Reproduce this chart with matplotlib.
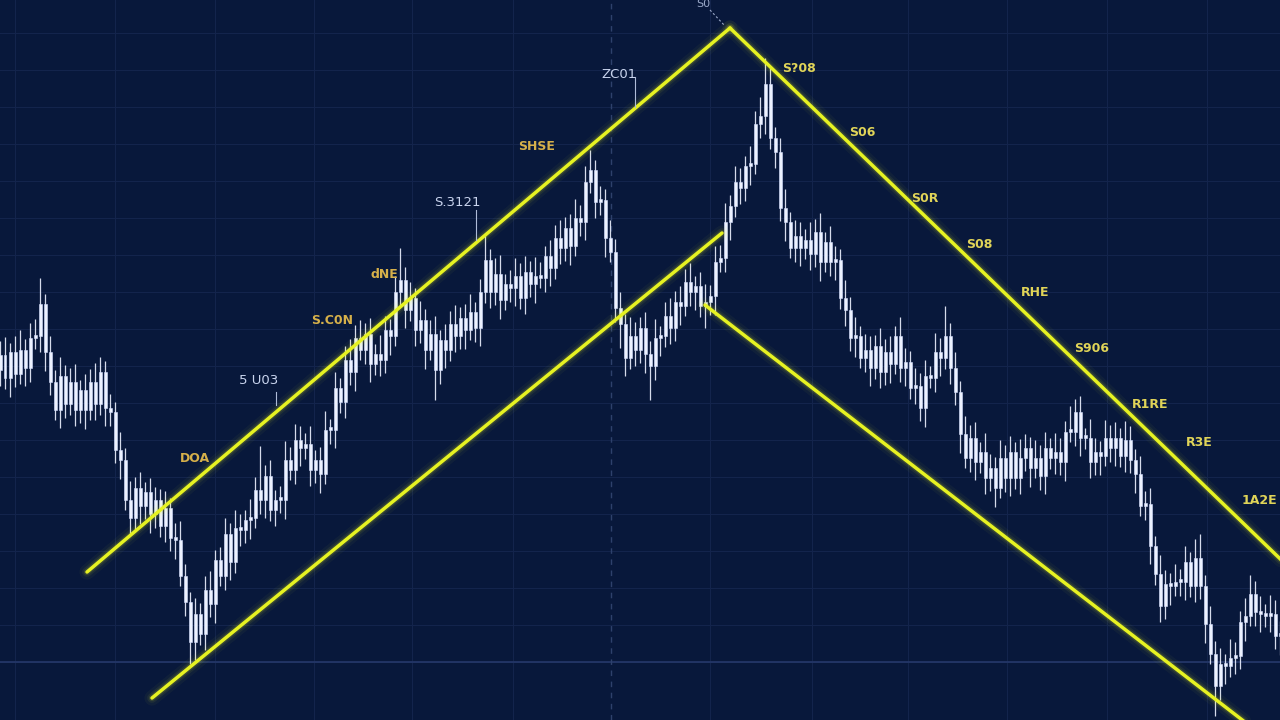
import numpy as np
import matplotlib
matplotlib.use("Agg")
import matplotlib.pyplot as plt

# closing prices, one candle per bar
closes = [
    645, 622, 648, 626, 650, 632, 662, 664, 696, 648, 618, 590, 624, 596, 618, 590,
    610, 590, 618, 596, 628, 592, 588, 550, 540, 500, 482, 512, 494, 508, 486, 500,
    474, 492, 462, 460, 424, 398, 358, 386, 366, 410, 396, 440, 424, 466, 438, 472,
    470, 480, 482, 510, 500, 524, 490, 500, 500, 540, 530, 560, 552, 556, 530, 540,
    526, 570, 570, 612, 598, 640, 628, 662, 650, 666, 636, 646, 640, 670, 664, 708,
    720, 690, 702, 670, 680, 650, 666, 630, 660, 650, 676, 664, 682, 670, 688, 672,
    708, 740, 708, 726, 700, 716, 712, 724, 702, 728, 716, 724, 722, 744, 732, 762,
    752, 772, 754, 782, 778, 818, 830, 798, 800, 762, 748, 692, 676, 642, 664, 650,
    672, 646, 634, 662, 664, 684, 672, 698, 694, 718, 708, 714, 694, 698, 704, 738,
    742, 778, 794, 818, 812, 834, 836, 876, 884, 916, 862, 848, 792, 778, 752, 764,
    752, 760, 746, 768, 738, 758, 738, 740, 702, 690, 662, 664, 642, 650, 632, 654,
    628, 648, 636, 664, 632, 638, 612, 614, 592, 624, 622, 648, 642, 664, 632, 608,
    566, 542, 562, 538, 548, 522, 532, 512, 542, 522, 548, 522, 542, 552, 532, 542,
    524, 552, 542, 548, 538, 568, 568, 588, 562, 562, 538, 548, 544, 562, 552, 562,
    544, 560, 540, 526, 494, 496, 454, 426, 394, 416, 414, 418, 418, 438, 414, 442,
    414, 376, 346, 314, 336, 334, 342, 344, 378, 384, 406, 388, 386, 384, 386, 364,
    366,
]
first_open = 630

# upper / lower shadow length of every candle
wick_up = [
    14, 18, 9, 16, 20, 11, 15, 17, 26, 10, 16, 12, 19, 11, 14, 18,
    10, 16, 13, 19, 15, 11, 14, 10, 18, 12, 19, 11, 16, 10, 14, 13,
    11, 17, 10, 15, 19, 12, 10, 16, 11, 14, 19, 10, 13, 16, 11, 18,
    14, 10, 19, 13, 44, 11, 16, 10, 14, 19, 13, 16, 14, 11, 18, 10,
    13, 19, 11, 16, 10, 14, 21, 13, 18, 11, 16, 10, 19, 14, 11, 16,
    32, 13, 16, 10, 19, 11, 14, 18, 10, 16, 13, 19, 11, 14, 18, 10,
    13, 26, 11, 16, 19, 10, 14, 18, 13, 16, 11, 19, 14, 10, 16, 13,
    18, 11, 14, 19, 13, 16, 20, 10, 14, 11, 18, 13, 16, 10, 19, 14,
    11, 16, 13, 19, 10, 14, 18, 11, 16, 13, 19, 10, 14, 18, 11, 16,
    13, 19, 11, 16, 14, 10, 18, 13, 19, 26, 16, 11, 14, 19, 10, 16,
    14, 11, 18, 13, 19, 10, 16, 14, 11, 18, 13, 19, 10, 16, 14, 11,
    18, 13, 16, 10, 19, 14, 11, 18, 13, 16, 10, 19, 14, 30, 13, 16,
    11, 18, 13, 16, 10, 19, 14, 11, 18, 13, 16, 10, 19, 14, 11, 18,
    13, 16, 10, 19, 14, 11, 26, 13, 16, 10, 19, 14, 11, 18, 13, 16,
    10, 19, 14, 11, 18, 13, 16, 10, 19, 14, 11, 18, 13, 16, 10, 19,
    24, 11, 18, 13, 16, 10, 19, 14, 11, 18, 19, 13, 16, 10, 19, 14,
    13,
]
wick_dn = [
    16, 11, 19, 13, 10, 18, 14, 11, 16, 19, 13, 10, 18, 14, 11, 16,
    13, 19, 10, 16, 11, 18, 14, 13, 19, 10, 16, 11, 18, 13, 19, 14,
    11, 16, 13, 19, 10, 14, 22, 18, 11, 16, 13, 19, 10, 14, 18, 11,
    16, 13, 19, 10, 14, 18, 11, 16, 13, 19, 10, 14, 18, 11, 16, 13,
    19, 10, 14, 18, 11, 16, 13, 19, 10, 14, 18, 11, 16, 13, 19, 10,
    14, 18, 11, 16, 13, 19, 10, 30, 14, 18, 11, 16, 13, 19, 10, 14,
    18, 11, 16, 13, 19, 10, 14, 18, 11, 16, 13, 19, 10, 14, 18, 11,
    16, 13, 19, 10, 14, 18, 11, 16, 13, 19, 10, 14, 24, 18, 11, 16,
    13, 19, 34, 14, 18, 11, 16, 13, 19, 10, 14, 18, 11, 22, 13, 19,
    10, 14, 18, 11, 16, 13, 19, 10, 14, 18, 11, 16, 13, 19, 10, 14,
    18, 11, 16, 13, 19, 10, 14, 18, 11, 16, 13, 19, 10, 14, 18, 11,
    16, 13, 19, 10, 14, 18, 11, 16, 13, 19, 10, 14, 18, 11, 16, 13,
    19, 10, 14, 18, 11, 16, 13, 19, 10, 14, 18, 11, 16, 13, 19, 10,
    14, 18, 11, 16, 13, 19, 10, 14, 18, 11, 16, 13, 19, 10, 14, 18,
    11, 16, 13, 19, 10, 14, 18, 11, 16, 13, 19, 10, 14, 18, 11, 16,
    13, 19, 10, 30, 14, 18, 11, 16, 13, 19, 10, 14, 18, 11, 16, 13,
    19,
]

# channel lines: (x0, y0, x1, y1) in bar index / price
channel_lines = [
    (17.4, 428, 146.0, 972),   # rising, upper
    (30.4, 302, 144.4, 767),   # rising, lower
    (146.0, 972, 260.0, 422),  # falling, upper
    (141.0, 695, 250.0, 274),  # falling, lower
]

# price tags drawn on the chart
gold_labels = ["DOA", "S.C0N", "dNE", "SHSE"]
gold_pos = [(39, 541), (66.4, 680), (76.8, 726), (107.4, 853)]
white_labels = ["5 U03", "S.3121", "ZC01"]
white_pos = [(51.8, 619), (91.4, 798), (123.8, 925)]
white_leaders = [(55.2, 608, 595), (95.2, 790, 760), (127.0, 923, 893)]
right_labels = ["S?08", "S06", "S0R", "S08", "RHE", "S906", "R1RE", "R3E", "1A2E"]
right_pos = [(159.8, 932), (172.4, 867), (185, 802), (195.8, 756), (207, 707),
             (218.4, 652), (230, 595), (239.8, 557), (251.8, 500)]

grid_x = [3, 23, 43, 62.8, 82.4, 102.6, 142, 162.4, 181.6, 201.4, 221.4, 241.4]
grid_y = [967, 930, 893, 856, 819, 782, 745, 708, 671, 634, 597, 560,
          523, 486, 449, 412, 375, 338]

BG = "#08183b"
GRID = "#13244c"
CANDLE = "#edf2ff"
LINE = "#e6f222"

closes = np.array(closes, dtype=float)
opens = np.concatenate([[first_open], closes[:-1]])
highs = np.maximum(opens, closes) + np.array(wick_up)
lows = np.minimum(opens, closes) - np.array(wick_dn)
idx = np.arange(len(closes))

fig = plt.figure(figsize=(12.8, 7.2), dpi=100, facecolor=BG)
ax = fig.add_axes([0, 0, 1, 1])
ax.set_facecolor(BG)
ax.set_xlim(0, 256)
ax.set_ylim(280, 1000)

ax.set_xticks(grid_x)
ax.set_yticks(grid_y)
ax.grid(True, color=GRID, lw=0.8)
ax.tick_params(length=0, labelbottom=False, labelleft=False)
for s in ax.spines.values():
    s.set_visible(False)
ax.axhline(338, color="#25386a", lw=1.2)
ax.axvline(122.2, color="#2e416c", lw=1.0, ls=(0, (4, 4)))

# candles
ax.vlines(idx, lows, highs, color=CANDLE, lw=0.9, alpha=0.9, zorder=3)
body = np.maximum(np.abs(closes - opens), 3)
ax.bar(idx, body, bottom=np.minimum(opens, closes), width=0.6,
       color=CANDLE, edgecolor="#d5e0ff", lw=0.4, zorder=4)

# channel lines with a soft glow
for x0, y0, x1, y1 in channel_lines:
    for lw, a in [(11, 0.04), (7, 0.07), (4.5, 0.13)]:
        ax.plot([x0, x1], [y0, y1], color=LINE, lw=lw, alpha=a,
                solid_capstyle="round", zorder=5)
    ax.plot([x0, x1], [y0, y1], color=LINE, lw=2.5, zorder=6,
            solid_capstyle="round")

for t, (x, y) in zip(gold_labels, gold_pos):
    ax.text(x, y, t, color="#d6b04a", fontsize=9, ha="center", va="center",
            fontweight="semibold", zorder=7)
for t, (x, y) in zip(white_labels, white_pos):
    ax.text(x, y, t, color="#c9d4ee", fontsize=9.5, ha="center", va="center",
            zorder=7)
for x, y0, y1 in white_leaders:
    ax.plot([x, x], [y0, y1], color="#aebbd8", lw=0.8, zorder=7)
for t, (x, y) in zip(right_labels, right_pos):
    ax.text(x, y, t, color="#e0d458", fontsize=9, ha="center", va="center",
            fontweight="semibold", zorder=7)
ax.text(140.6, 996, "S0", color="#9aa8c8", fontsize=8, ha="center", va="center")
ax.plot([142, 145], [990, 974], color="#9aa8c8", lw=0.8, ls=(0, (2, 2)))

fig.savefig("out.png", dpi=100, facecolor=BG)
